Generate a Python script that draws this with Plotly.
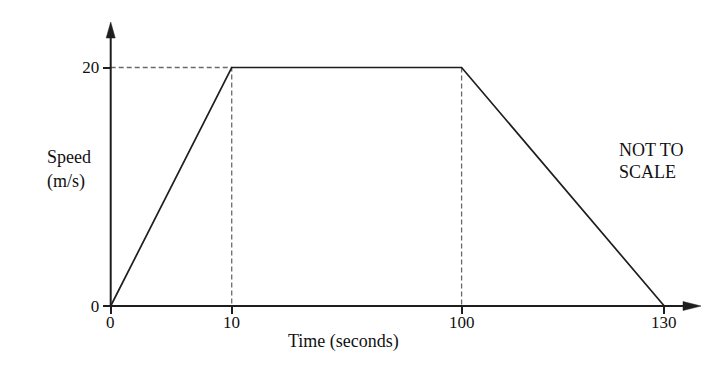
import plotly.graph_objects as go

# Data (speed-time graph, drawn NOT TO SCALE)
times = [0, 10, 100, 130]          # seconds (tick labels)
speeds = [0, 20, 20, 0]            # m/s
diagram_pos = [0, 10, 29, 45.75]   # horizontal drawing positions (not to scale)
speed_ticks = [0, 20]

W, H = 710, 367
XR = [-9.15, 49.53]
YR = [-5.115, 25.66]
ink = "#1e1e1e"
font = dict(family="Liberation Serif, Times New Roman, serif", size=18, color="#111111")
tfont = dict(family="Liberation Serif, Times New Roman, serif", size=17, color="#111111")

def px_x(p):  # pixel -> data x
    return XR[0] + p / W * (XR[1] - XR[0])

def px_y(p):  # pixel -> data y
    return YR[1] - p / H * (YR[1] - YR[0])

fig = go.Figure()

dash_style = dict(color="#6a6a6a", width=1.3, dash="5px,3px")
# dashed guide lines
fig.add_trace(go.Scatter(x=[diagram_pos[0], diagram_pos[1], diagram_pos[1]],
                         y=[speeds[1], speeds[1], 0], mode="lines",
                         line=dash_style, hoverinfo="skip", showlegend=False))
fig.add_trace(go.Scatter(x=[diagram_pos[2], diagram_pos[2]], y=[speeds[2], 0], mode="lines",
                         line=dash_style, hoverinfo="skip", showlegend=False))

# main graph
fig.add_trace(go.Scatter(x=diagram_pos, y=speeds, mode="lines",
                         line=dict(color=ink, width=1.7), showlegend=False))

# axes lines with arrows
ytip, ybase = px_y(22), px_y(38)
xtip, xbase = px_x(701), px_x(683)
hw_x = px_x(110.7 + 4.5) - px_x(110.7)
hh_y = px_y(306 - 4.5) - px_y(306)
shapes = [
    dict(type="line", xref="x", yref="y", x0=0, y0=0, x1=0, y1=ybase + 0.1,
         line=dict(color=ink, width=2)),
    dict(type="line", xref="x", yref="y", x0=0, y0=0, x1=xbase + 0.1, y1=0,
         line=dict(color=ink, width=2)),
    dict(type="path", xref="x", yref="y",
         path=f"M {-hw_x} {ybase} L 0 {ytip} L {hw_x} {ybase} Z",
         fillcolor=ink, line=dict(color=ink, width=0.5)),
    dict(type="path", xref="x", yref="y",
         path=f"M {xbase} {-hh_y} L {xtip} 0 L {xbase} {hh_y} Z",
         fillcolor=ink, line=dict(color=ink, width=0.5)),
]

def ann(text, px, py, xanchor="left"):
    return dict(text=text, x=px / W, y=1 - py / H, xref="paper", yref="paper",
                xanchor=xanchor, yanchor="middle", showarrow=False, font=font)

annotations = [
    ann("Speed", 45, 157),
    ann("(m/s)", 45, 181),
    ann("NOT TO", 617, 150),
    ann("SCALE", 617, 172),
    ann("Time (seconds)", 343, 341, xanchor="center"),
]
# x tick labels (time values) placed just under the tick marks
for xp, t in zip(diagram_pos, times):
    annotations.append(dict(text=str(t), x=xp, xref="x", y=1 - 322 / H, yref="paper",
                            xanchor="center", yanchor="middle", showarrow=False, font=tfont))

fig.update_layout(
    width=W, height=H, margin=dict(l=0, r=0, t=0, b=0),
    paper_bgcolor="white", plot_bgcolor="white",
    shapes=shapes, annotations=annotations,
    xaxis=dict(range=XR, anchor="free", position=(H - 306) / H,
               tickvals=diagram_pos, showticklabels=False,
               ticks="outside", ticklen=7, tickwidth=1.5, tickcolor=ink,
               showline=False, showgrid=False, zeroline=False),
    yaxis=dict(range=YR, anchor="free", position=110.7 / W,
               tickvals=speed_ticks, ticktext=[str(s) for s in speed_ticks],
               ticks="outside", ticklen=8, tickwidth=1.5, tickcolor=ink,
               showline=False, showgrid=False, zeroline=False, tickfont=tfont),
)

fig.write_html("out.html")
